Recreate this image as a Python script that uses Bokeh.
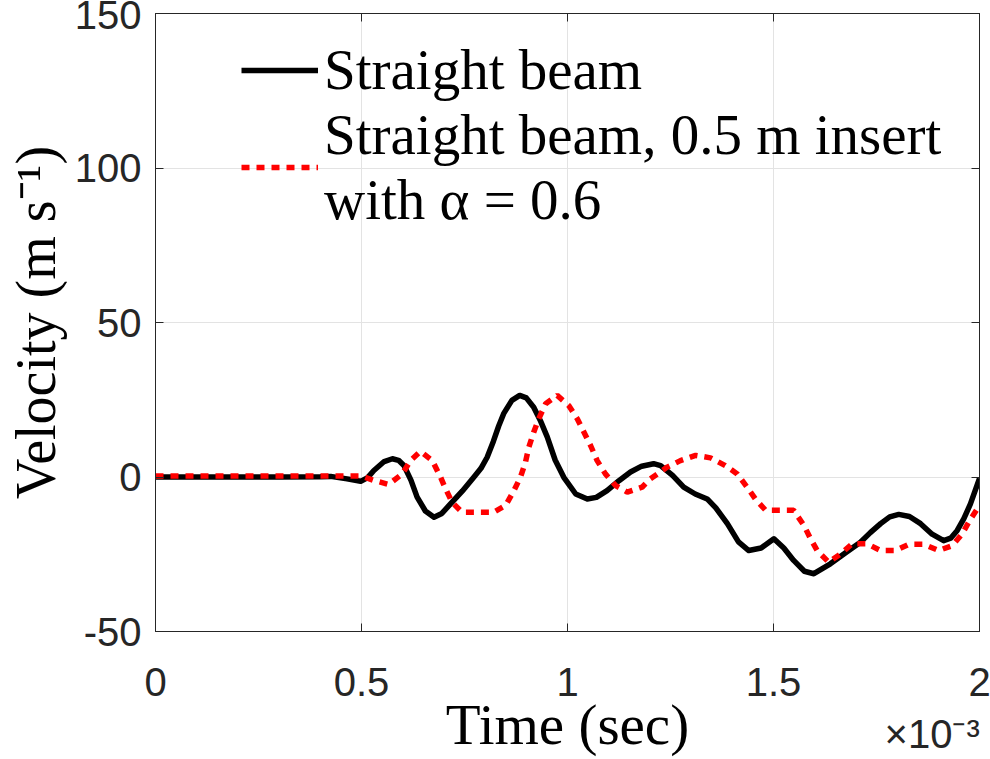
from bokeh.plotting import figure
from bokeh.models import Range1d, Legend, LegendItem, LinearAxis, FixedTicker
from bokeh.embed import file_html
from bokeh.resources import INLINE

# Time in units of 1e-3 s
t_straight = [0.0, 0.1, 0.2, 0.3, 0.40, 0.425, 0.465, 0.498, 0.515, 0.530, 0.555, 0.575, 0.590,
              0.603, 0.620, 0.635, 0.655, 0.676, 0.695, 0.716, 0.745, 0.773, 0.790, 0.805, 0.820,
              0.833, 0.845, 0.865, 0.884, 0.900, 0.918, 0.935, 0.951, 0.970, 0.991, 1.020, 1.048,
              1.070, 1.096, 1.125, 1.153, 1.180, 1.209, 1.226, 1.255, 1.282, 1.310, 1.339, 1.360,
              1.388, 1.415, 1.440, 1.470, 1.501, 1.525, 1.549, 1.575, 1.598, 1.638, 1.675, 1.711,
              1.735, 1.760, 1.782, 1.804, 1.830, 1.857, 1.885, 1.913, 1.930, 1.946, 1.962, 1.978,
              2.0]
v_straight = [0.0, 0.0, 0.0, 0.0, 0.1, 0.2, -0.6, -1.4, -0.2, 2.1, 5.0, 5.9, 5.4,
              3.7, -1.0, -6.5, -11.0, -13.0, -11.8, -8.7, -4.5, 0.0, 2.8, 6.4, 11.5,
              16.5, 20.5, 24.8, 26.4, 25.6, 22.6, 18.0, 12.9, 5.5, -0.1, -5.5, -7.1,
              -6.6, -4.4, -1.2, 1.6, 3.5, 4.3, 3.7, 0.5, -3.3, -5.5, -7.1, -10.0,
              -15.1, -21.0, -23.8, -23.0, -20.0, -23.0, -27.0, -30.5, -31.3, -28.1, -24.5, -21.1,
              -18.0, -15.1, -12.9, -12.1, -12.8, -15.1, -18.5, -20.6, -19.8, -17.3, -13.5, -8.7,
              -0.5]

t_insert = [0.0, 0.1, 0.2, 0.3, 0.40, 0.425, 0.50, 0.530, 0.566, 0.599, 0.619, 0.643,
            0.672, 0.692, 0.704, 0.720, 0.744, 0.781, 0.821, 0.850, 0.870, 0.886, 0.898,
            0.906, 0.918, 0.930, 0.947, 0.975, 1.003, 1.024, 1.040, 1.056, 1.072, 1.092,
            1.117, 1.145, 1.181, 1.201, 1.242, 1.274, 1.311, 1.347, 1.383, 1.412, 1.436,
            1.456, 1.481, 1.513, 1.549, 1.574, 1.590, 1.606, 1.634, 1.663, 1.691, 1.727,
            1.760, 1.796, 1.828, 1.865, 1.901, 1.934, 1.958, 1.976, 2.0]
v_insert = [0.3, 0.3, 0.3, 0.3, 0.3, 0.3, 0.3, -1.1, -2.4, 1.0, 5.3, 8.3,
            5.3, -0.1, -3.8, -8.2, -11.4, -11.4, -11.4, -9.2, -4.4, 0.0, 4.8,
            9.6, 14.5, 18.8, 23.7, 26.4, 23.1, 18.8, 14.5, 10.2, 5.3, 1.0,
            -2.8, -4.9, -3.3, -0.6, 3.2, 5.3, 7.0, 6.2, 3.7, 1.0, -3.3,
            -7.1, -10.8, -10.8, -10.8, -15.7, -20.0, -23.8, -27.6, -24.9, -21.6, -21.6,
            -23.8, -23.8, -21.8, -21.8, -23.8, -22.2, -18.4, -14.1, -9.2]

x_ticks = [0, 0.5, 1, 1.5, 2]
x_tick_labels = ["0", "0.5", "1", "1.5", "2"]
y_ticks = [-50, 0, 50, 100, 150]
y_tick_labels = ["-50", "0", "50", "100", "150"]
legend_labels = ["Straight beam", "Straight beam, 0.5 m insert\nwith \u03b1 = 0.6"]
x_label = "Time (sec)"
y_label = "Velocity (m s\u207b\u00b9)"
exp_label = "\u00d710\u207b\u00b3"

# layout constant: where the axis multiplier sits (in axis units), second line of tick labels
EXP_POS = 1.885

AX = "#262626"
TICK_FONT = "Liberation Sans"
SERIF = "Liberation Serif"

p = figure(width=990, height=759, output_backend="svg", toolbar_location=None,
           x_range=Range1d(0, 2), y_range=Range1d(-50, 150),
           min_border_left=155, min_border_right=11, min_border_top=13,
           min_border_bottom=128)
p.background_fill_color = "white"
p.border_fill_color = "white"
p.outline_line_color = AX
p.outline_line_width = 1

r1 = p.line(t_straight, v_straight, line_color="black", line_width=5.5, line_join="round")
r2 = p.line(t_insert, v_insert, line_color="#ff0000", line_width=5.5,
            line_dash="8 7", line_cap="butt")


def tick_only_axis(axis, ticks):
    axis.ticker = FixedTicker(ticks=ticks)
    axis.axis_line_color = AX
    axis.major_tick_line_color = AX
    axis.major_tick_in = 8
    axis.major_tick_out = 0
    axis.minor_tick_line_color = None
    axis.major_label_text_font_size = "0px"
    axis.major_label_text_color = None
    axis.major_label_standoff = 0
    axis.axis_label = None


# bottom: first axis draws line + inward ticks, second axis carries the labels
tick_only_axis(p.xaxis[0], x_ticks)
xlab = LinearAxis(ticker=FixedTicker(ticks=x_ticks + [EXP_POS]))
xlab.axis_line_color = None
xlab.major_tick_line_color = None
xlab.minor_tick_line_color = None
xlab.major_tick_in = 0
xlab.major_tick_out = 0
xlab.major_label_text_font = TICK_FONT
xlab.major_label_text_font_size = "40px"
xlab.major_label_text_color = AX
overrides = dict(zip(x_ticks, x_tick_labels))
overrides[EXP_POS] = "\n" + exp_label
xlab.major_label_overrides = overrides
xlab.major_label_standoff = 28
xlab.axis_label = x_label
xlab.axis_label_text_font = SERIF
xlab.axis_label_text_font_style = "normal"
xlab.axis_label_text_font_size = "57px"
xlab.axis_label_text_color = "black"
xlab.axis_label_standoff = -66
p.add_layout(xlab, "below")

ya = p.yaxis[0]
ya.ticker = FixedTicker(ticks=y_ticks)
ya.axis_line_color = AX
ya.major_tick_line_color = AX
ya.major_tick_in = 8
ya.major_tick_out = 0
ya.minor_tick_line_color = None
ya.major_label_text_font = TICK_FONT
ya.major_label_text_font_size = "40px"
ya.major_label_text_color = AX
ya.major_label_overrides = dict(zip(y_ticks, y_tick_labels))
ya.major_label_standoff = 14
ya.axis_label = y_label
ya.axis_label_text_font = SERIF
ya.axis_label_text_font_style = "normal"
ya.axis_label_text_font_size = "56px"
ya.axis_label_text_color = "black"
ya.axis_label_standoff = 5

# ticks on top/right like a boxed axes
for loc in ("above", "right"):
    a = LinearAxis()
    tick_only_axis(a, x_ticks if loc == "above" else y_ticks)
    p.add_layout(a, loc)

p.xgrid.ticker = FixedTicker(ticks=x_ticks)
p.ygrid.ticker = FixedTicker(ticks=y_ticks)
p.grid.grid_line_color = "#e3e3e3"
p.grid.grid_line_width = 1

legend = Legend(items=[LegendItem(label=legend_labels[0], renderers=[r1]),
                       LegendItem(label=legend_labels[1], renderers=[r2])],
                location=(86, 399))
legend.label_text_font = SERIF
legend.label_text_font_size = "57px"
legend.label_text_color = "black"
legend.label_standoff = 6
legend.glyph_width = 77
legend.glyph_height = 20
legend.spacing = 0
legend.padding = 0
legend.margin = 0
legend.border_line_alpha = 0
legend.background_fill_alpha = 0
p.add_layout(legend)

open("out.html", "w").write(file_html(p, INLINE))
